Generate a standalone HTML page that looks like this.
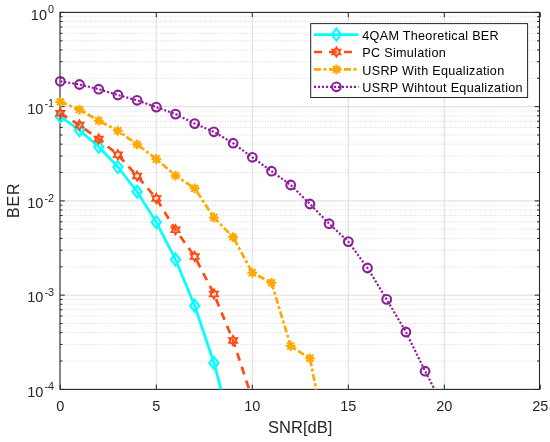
<!DOCTYPE html>
<html><head><meta charset="utf-8"><title>BER vs SNR</title><style>
html,body{margin:0;padding:0;background:#fff;overflow:hidden;}
svg{display:block;filter:blur(0.4px);}
text{font-family:"Liberation Sans",Arial,Helvetica,sans-serif;}
</style></head><body>
<svg width="550" height="442" viewBox="0 0 550 442">
<rect x="0" y="0" width="550" height="442" fill="#fff"/>
<defs><clipPath id="ax"><rect x="60" y="12.4" width="479.5" height="377"/></clipPath></defs>
<path d="M60 78.28H539.5M60 61.68H539.5M60 49.91H539.5M60 40.77H539.5M60 33.31H539.5M60 27H539.5M60 21.53H539.5M60 16.71H539.5M60 172.53H539.5M60 155.93H539.5M60 144.16H539.5M60 135.02H539.5M60 127.56H539.5M60 121.25H539.5M60 115.78H539.5M60 110.96H539.5M60 266.78H539.5M60 250.18H539.5M60 238.41H539.5M60 229.27H539.5M60 221.81H539.5M60 215.5H539.5M60 210.03H539.5M60 205.21H539.5M60 361.03H539.5M60 344.43H539.5M60 332.66H539.5M60 323.52H539.5M60 316.06H539.5M60 309.75H539.5M60 304.28H539.5M60 299.46H539.5" stroke="#dcdcdc" stroke-width="1" stroke-dasharray="1 1.5" fill="none"/>
<path d="M156.3 12.4V389.4M252.3 12.4V389.4M348.3 12.4V389.4M444.3 12.4V389.4M60 106.65H539.5M60 200.9H539.5M60 295.15H539.5" stroke="#dcdcdc" stroke-width="1" fill="none"/>
<path d="M60.3 389.4V384.6M60.3 12.4V17.2M156.3 389.4V384.6M156.3 12.4V17.2M252.3 389.4V384.6M252.3 12.4V17.2M348.3 389.4V384.6M348.3 12.4V17.2M444.3 389.4V384.6M444.3 12.4V17.2M540.3 389.4V384.6M540.3 12.4V17.2M60 12.4H64.8M539.5 12.4H534.7M60 106.65H64.8M539.5 106.65H534.7M60 200.9H64.8M539.5 200.9H534.7M60 295.15H64.8M539.5 295.15H534.7M60 389.4H64.8M539.5 389.4H534.7M60 78.28H62.5M539.5 78.28H537M60 61.68H62.5M539.5 61.68H537M60 49.91H62.5M539.5 49.91H537M60 40.77H62.5M539.5 40.77H537M60 33.31H62.5M539.5 33.31H537M60 27H62.5M539.5 27H537M60 21.53H62.5M539.5 21.53H537M60 16.71H62.5M539.5 16.71H537M60 172.53H62.5M539.5 172.53H537M60 155.93H62.5M539.5 155.93H537M60 144.16H62.5M539.5 144.16H537M60 135.02H62.5M539.5 135.02H537M60 127.56H62.5M539.5 127.56H537M60 121.25H62.5M539.5 121.25H537M60 115.78H62.5M539.5 115.78H537M60 110.96H62.5M539.5 110.96H537M60 266.78H62.5M539.5 266.78H537M60 250.18H62.5M539.5 250.18H537M60 238.41H62.5M539.5 238.41H537M60 229.27H62.5M539.5 229.27H537M60 221.81H62.5M539.5 221.81H537M60 215.5H62.5M539.5 215.5H537M60 210.03H62.5M539.5 210.03H537M60 205.21H62.5M539.5 205.21H537M60 361.03H62.5M539.5 361.03H537M60 344.43H62.5M539.5 344.43H537M60 332.66H62.5M539.5 332.66H537M60 323.52H62.5M539.5 323.52H537M60 316.06H62.5M539.5 316.06H537M60 309.75H62.5M539.5 309.75H537M60 304.28H62.5M539.5 304.28H537M60 299.46H62.5M539.5 299.46H537" stroke="#262626" stroke-width="1" fill="none"/>
<rect x="60" y="12.4" width="479.5" height="377" fill="none" stroke="#262626" stroke-width="1.1"/>
<polyline clip-path="url(#ax)" fill="none" stroke-linejoin="round" points="60.3,116.48 79.5,130.18 98.7,146.79 117.9,167.02 137.1,191.76 156.3,222.13 175.5,259.52 194.7,305.71 213.9,362.93 233.1,434.01 252.3,522.49" stroke="#00FFFF" stroke-width="2.7"/>
<polygon points="60.3,110.48 64.9,116.48 60.3,122.48 55.7,116.48" fill="none" stroke="#00FFFF" stroke-width="2.1" stroke-linejoin="miter"/>
<polygon points="79.5,124.18 84.1,130.18 79.5,136.18 74.9,130.18" fill="none" stroke="#00FFFF" stroke-width="2.1" stroke-linejoin="miter"/>
<polygon points="98.7,140.79 103.3,146.79 98.7,152.79 94.1,146.79" fill="none" stroke="#00FFFF" stroke-width="2.1" stroke-linejoin="miter"/>
<polygon points="117.9,161.02 122.5,167.02 117.9,173.02 113.3,167.02" fill="none" stroke="#00FFFF" stroke-width="2.1" stroke-linejoin="miter"/>
<polygon points="137.1,185.76 141.7,191.76 137.1,197.76 132.5,191.76" fill="none" stroke="#00FFFF" stroke-width="2.1" stroke-linejoin="miter"/>
<polygon points="156.3,216.13 160.9,222.13 156.3,228.13 151.7,222.13" fill="none" stroke="#00FFFF" stroke-width="2.1" stroke-linejoin="miter"/>
<polygon points="175.5,253.52 180.1,259.52 175.5,265.52 170.9,259.52" fill="none" stroke="#00FFFF" stroke-width="2.1" stroke-linejoin="miter"/>
<polygon points="194.7,299.71 199.3,305.71 194.7,311.71 190.1,305.71" fill="none" stroke="#00FFFF" stroke-width="2.1" stroke-linejoin="miter"/>
<polygon points="213.9,356.93 218.5,362.93 213.9,368.93 209.3,362.93" fill="none" stroke="#00FFFF" stroke-width="2.1" stroke-linejoin="miter"/>
<polyline clip-path="url(#ax)" fill="none" stroke-linejoin="round" points="60.3,113.3 79.5,125.1 98.7,139 117.9,154.8 137.1,176 156.3,198.5 175.5,229.8 194.7,256.5 213.9,293.9 233.1,340.6 252.3,399" stroke="#FF4A12" stroke-width="2.7" stroke-dasharray="8 6.5"/>
<polygon points="60.3,108.7 61.63,111 64.28,111 62.96,113.3 64.28,115.6 61.63,115.6 60.3,117.9 58.97,115.6 56.32,115.6 57.64,113.3 56.32,111 58.97,111" fill="none" stroke="#FF4A12" stroke-width="1.9" stroke-linejoin="miter"/>
<polygon points="79.5,120.5 80.83,122.8 83.48,122.8 82.16,125.1 83.48,127.4 80.83,127.4 79.5,129.7 78.17,127.4 75.52,127.4 76.84,125.1 75.52,122.8 78.17,122.8" fill="none" stroke="#FF4A12" stroke-width="1.9" stroke-linejoin="miter"/>
<polygon points="98.7,134.4 100.03,136.7 102.68,136.7 101.36,139 102.68,141.3 100.03,141.3 98.7,143.6 97.37,141.3 94.72,141.3 96.04,139 94.72,136.7 97.37,136.7" fill="none" stroke="#FF4A12" stroke-width="1.9" stroke-linejoin="miter"/>
<polygon points="117.9,150.2 119.23,152.5 121.88,152.5 120.56,154.8 121.88,157.1 119.23,157.1 117.9,159.4 116.57,157.1 113.92,157.1 115.24,154.8 113.92,152.5 116.57,152.5" fill="none" stroke="#FF4A12" stroke-width="1.9" stroke-linejoin="miter"/>
<polygon points="137.1,171.4 138.43,173.7 141.08,173.7 139.76,176 141.08,178.3 138.43,178.3 137.1,180.6 135.77,178.3 133.12,178.3 134.44,176 133.12,173.7 135.77,173.7" fill="none" stroke="#FF4A12" stroke-width="1.9" stroke-linejoin="miter"/>
<polygon points="156.3,193.9 157.63,196.2 160.28,196.2 158.96,198.5 160.28,200.8 157.63,200.8 156.3,203.1 154.97,200.8 152.32,200.8 153.64,198.5 152.32,196.2 154.97,196.2" fill="none" stroke="#FF4A12" stroke-width="1.9" stroke-linejoin="miter"/>
<polygon points="175.5,225.2 176.83,227.5 179.48,227.5 178.16,229.8 179.48,232.1 176.83,232.1 175.5,234.4 174.17,232.1 171.52,232.1 172.84,229.8 171.52,227.5 174.17,227.5" fill="none" stroke="#FF4A12" stroke-width="1.9" stroke-linejoin="miter"/>
<polygon points="194.7,251.9 196.03,254.2 198.68,254.2 197.36,256.5 198.68,258.8 196.03,258.8 194.7,261.1 193.37,258.8 190.72,258.8 192.04,256.5 190.72,254.2 193.37,254.2" fill="none" stroke="#FF4A12" stroke-width="1.9" stroke-linejoin="miter"/>
<polygon points="213.9,289.3 215.23,291.6 217.88,291.6 216.56,293.9 217.88,296.2 215.23,296.2 213.9,298.5 212.57,296.2 209.92,296.2 211.24,293.9 209.92,291.6 212.57,291.6" fill="none" stroke="#FF4A12" stroke-width="1.9" stroke-linejoin="miter"/>
<polygon points="233.1,336 234.43,338.3 237.08,338.3 235.76,340.6 237.08,342.9 234.43,342.9 233.1,345.2 231.77,342.9 229.12,342.9 230.44,340.6 229.12,338.3 231.77,338.3" fill="none" stroke="#FF4A12" stroke-width="1.9" stroke-linejoin="miter"/>
<polyline clip-path="url(#ax)" fill="none" stroke-linejoin="round" points="60.3,101.9 79.5,109.6 98.7,120.7 117.9,130.8 137.1,144.4 156.3,159 175.5,175.6 194.7,188.4 213.9,217.5 233.1,237.1 252.3,272.7 271.5,282.8 290.7,346 309.9,358.3 329.1,454" stroke="#FFA800" stroke-width="2.7" stroke-dasharray="7 2.5 3 2.5"/>
<path d="M55.4 101.9H65.2M60.3 97V106.8M56.84 98.44L63.76 105.36M56.84 105.36L63.76 98.44" stroke="#FFA800" stroke-width="2.1" fill="none"/><circle cx="60.3" cy="101.9" r="2.6" fill="#FFA800"/>
<path d="M74.6 109.6H84.4M79.5 104.7V114.5M76.04 106.14L82.96 113.06M76.04 113.06L82.96 106.14" stroke="#FFA800" stroke-width="2.1" fill="none"/><circle cx="79.5" cy="109.6" r="2.6" fill="#FFA800"/>
<path d="M93.8 120.7H103.6M98.7 115.8V125.6M95.24 117.24L102.16 124.16M95.24 124.16L102.16 117.24" stroke="#FFA800" stroke-width="2.1" fill="none"/><circle cx="98.7" cy="120.7" r="2.6" fill="#FFA800"/>
<path d="M113 130.8H122.8M117.9 125.9V135.7M114.44 127.34L121.36 134.26M114.44 134.26L121.36 127.34" stroke="#FFA800" stroke-width="2.1" fill="none"/><circle cx="117.9" cy="130.8" r="2.6" fill="#FFA800"/>
<path d="M132.2 144.4H142M137.1 139.5V149.3M133.64 140.94L140.56 147.86M133.64 147.86L140.56 140.94" stroke="#FFA800" stroke-width="2.1" fill="none"/><circle cx="137.1" cy="144.4" r="2.6" fill="#FFA800"/>
<path d="M151.4 159H161.2M156.3 154.1V163.9M152.84 155.54L159.76 162.46M152.84 162.46L159.76 155.54" stroke="#FFA800" stroke-width="2.1" fill="none"/><circle cx="156.3" cy="159" r="2.6" fill="#FFA800"/>
<path d="M170.6 175.6H180.4M175.5 170.7V180.5M172.04 172.14L178.96 179.06M172.04 179.06L178.96 172.14" stroke="#FFA800" stroke-width="2.1" fill="none"/><circle cx="175.5" cy="175.6" r="2.6" fill="#FFA800"/>
<path d="M189.8 188.4H199.6M194.7 183.5V193.3M191.24 184.94L198.16 191.86M191.24 191.86L198.16 184.94" stroke="#FFA800" stroke-width="2.1" fill="none"/><circle cx="194.7" cy="188.4" r="2.6" fill="#FFA800"/>
<path d="M209 217.5H218.8M213.9 212.6V222.4M210.44 214.04L217.36 220.96M210.44 220.96L217.36 214.04" stroke="#FFA800" stroke-width="2.1" fill="none"/><circle cx="213.9" cy="217.5" r="2.6" fill="#FFA800"/>
<path d="M228.2 237.1H238M233.1 232.2V242M229.64 233.64L236.56 240.56M229.64 240.56L236.56 233.64" stroke="#FFA800" stroke-width="2.1" fill="none"/><circle cx="233.1" cy="237.1" r="2.6" fill="#FFA800"/>
<path d="M247.4 272.7H257.2M252.3 267.8V277.6M248.84 269.24L255.76 276.16M248.84 276.16L255.76 269.24" stroke="#FFA800" stroke-width="2.1" fill="none"/><circle cx="252.3" cy="272.7" r="2.6" fill="#FFA800"/>
<path d="M266.6 282.8H276.4M271.5 277.9V287.7M268.04 279.34L274.96 286.26M268.04 286.26L274.96 279.34" stroke="#FFA800" stroke-width="2.1" fill="none"/><circle cx="271.5" cy="282.8" r="2.6" fill="#FFA800"/>
<path d="M285.8 346H295.6M290.7 341.1V350.9M287.24 342.54L294.16 349.46M287.24 349.46L294.16 342.54" stroke="#FFA800" stroke-width="2.1" fill="none"/><circle cx="290.7" cy="346" r="2.6" fill="#FFA800"/>
<path d="M305 358.3H314.8M309.9 353.4V363.2M306.44 354.84L313.36 361.76M306.44 361.76L313.36 354.84" stroke="#FFA800" stroke-width="2.1" fill="none"/><circle cx="309.9" cy="358.3" r="2.6" fill="#FFA800"/>
<polyline clip-path="url(#ax)" fill="none" stroke-linejoin="round" points="60.3,81.3 79.5,84.5 98.7,89.2 117.9,95 137.1,100.3 156.3,107.1 175.5,114.1 194.7,123.6 213.9,131.8 233.1,143.2 252.3,157.3 271.5,171.2 290.7,185 309.9,204 329.1,223.7 348.3,241.6 367.5,268 386.7,299.4 405.9,332 425.1,371.2 444.3,408" stroke="#8C1E98" stroke-width="2.2" stroke-dasharray="2.1 1.9"/>
<circle cx="60.3" cy="81.3" r="4.35" fill="none" stroke="#8C1E98" stroke-width="2.1"/>
<circle cx="79.5" cy="84.5" r="4.35" fill="none" stroke="#8C1E98" stroke-width="2.1"/>
<circle cx="98.7" cy="89.2" r="4.35" fill="none" stroke="#8C1E98" stroke-width="2.1"/>
<circle cx="117.9" cy="95" r="4.35" fill="none" stroke="#8C1E98" stroke-width="2.1"/>
<circle cx="137.1" cy="100.3" r="4.35" fill="none" stroke="#8C1E98" stroke-width="2.1"/>
<circle cx="156.3" cy="107.1" r="4.35" fill="none" stroke="#8C1E98" stroke-width="2.1"/>
<circle cx="175.5" cy="114.1" r="4.35" fill="none" stroke="#8C1E98" stroke-width="2.1"/>
<circle cx="194.7" cy="123.6" r="4.35" fill="none" stroke="#8C1E98" stroke-width="2.1"/>
<circle cx="213.9" cy="131.8" r="4.35" fill="none" stroke="#8C1E98" stroke-width="2.1"/>
<circle cx="233.1" cy="143.2" r="4.35" fill="none" stroke="#8C1E98" stroke-width="2.1"/>
<circle cx="252.3" cy="157.3" r="4.35" fill="none" stroke="#8C1E98" stroke-width="2.1"/>
<circle cx="271.5" cy="171.2" r="4.35" fill="none" stroke="#8C1E98" stroke-width="2.1"/>
<circle cx="290.7" cy="185" r="4.35" fill="none" stroke="#8C1E98" stroke-width="2.1"/>
<circle cx="309.9" cy="204" r="4.35" fill="none" stroke="#8C1E98" stroke-width="2.1"/>
<circle cx="329.1" cy="223.7" r="4.35" fill="none" stroke="#8C1E98" stroke-width="2.1"/>
<circle cx="348.3" cy="241.6" r="4.35" fill="none" stroke="#8C1E98" stroke-width="2.1"/>
<circle cx="367.5" cy="268" r="4.35" fill="none" stroke="#8C1E98" stroke-width="2.1"/>
<circle cx="386.7" cy="299.4" r="4.35" fill="none" stroke="#8C1E98" stroke-width="2.1"/>
<circle cx="405.9" cy="332" r="4.35" fill="none" stroke="#8C1E98" stroke-width="2.1"/>
<circle cx="425.1" cy="371.2" r="4.35" fill="none" stroke="#8C1E98" stroke-width="2.1"/>
<g fill="#262626" font-size="14.5" text-anchor="middle">
<text x="60.3" y="410.5">0</text>
<text x="156.3" y="410.5">5</text>
<text x="252.3" y="410.5">10</text>
<text x="348.3" y="410.5">15</text>
<text x="444.3" y="410.5">20</text>
<text x="540.3" y="410.5">25</text>
</g>
<g fill="#262626" font-size="14.5" text-anchor="end">
<text x="54" y="19.6">10<tspan dx="1" dy="-6.6" font-size="10.8">0</tspan></text>
<text x="54" y="113.85">10<tspan dx="1" dy="-6.6" font-size="10.8">-1</tspan></text>
<text x="54" y="208.1">10<tspan dx="1" dy="-6.6" font-size="10.8">-2</tspan></text>
<text x="54" y="302.35">10<tspan dx="1" dy="-6.6" font-size="10.8">-3</tspan></text>
<text x="54" y="396.6">10<tspan dx="1" dy="-6.6" font-size="10.8">-4</tspan></text>
</g>
<text x="300.2" y="432.8" font-size="16.5" fill="#262626" text-anchor="middle">SNR[dB]</text>
<text transform="translate(19.3 200.4) rotate(-90)" font-size="16" letter-spacing="0.8" fill="#262626" text-anchor="middle">BER</text>
<rect x="310.7" y="23.6" width="216.9" height="73.9" fill="#fff" stroke="#262626" stroke-width="1"/>
<line x1="314" y1="34.6" x2="358.5" y2="34.6" stroke="#00FFFF" stroke-width="2.7"/>
<polygon points="336.4,28.6 341,34.6 336.4,40.6 331.8,34.6" fill="none" stroke="#00FFFF" stroke-width="2.1" stroke-linejoin="miter"/>
<text x="362.3" y="40" font-size="12.6" letter-spacing="0.3" fill="#000">4QAM Theoretical BER</text>
<line x1="314" y1="52" x2="358.5" y2="52" stroke="#FF4A12" stroke-width="2.7" stroke-dasharray="8 7"/>
<polygon points="336.4,47.4 337.73,49.7 340.38,49.7 339.06,52 340.38,54.3 337.73,54.3 336.4,56.6 335.07,54.3 332.42,54.3 333.74,52 332.42,49.7 335.07,49.7" fill="none" stroke="#FF4A12" stroke-width="1.9" stroke-linejoin="miter"/>
<text x="362.3" y="57.4" font-size="12.6" letter-spacing="0.3" fill="#000">PC Simulation</text>
<line x1="314" y1="69.4" x2="358.5" y2="69.4" stroke="#FFA800" stroke-width="2.7" stroke-dasharray="7 2.5 3 2.5"/>
<path d="M331.5 69.4H341.3M336.4 64.5V74.3M332.94 65.94L339.86 72.86M332.94 72.86L339.86 65.94" stroke="#FFA800" stroke-width="2.1" fill="none"/><circle cx="336.4" cy="69.4" r="2.6" fill="#FFA800"/>
<text x="362.3" y="74.8" font-size="12.6" letter-spacing="0.3" fill="#000">USRP With Equalization</text>
<line x1="314" y1="86.8" x2="358.5" y2="86.8" stroke="#8C1E98" stroke-width="2.2" stroke-dasharray="2.1 1.9"/>
<circle cx="336.4" cy="86.8" r="4.35" fill="none" stroke="#8C1E98" stroke-width="2.1"/>
<text x="362.3" y="92.2" font-size="12.6" letter-spacing="0.3" fill="#000">USRP Wihtout Equalization</text>
</svg>
</body></html>
